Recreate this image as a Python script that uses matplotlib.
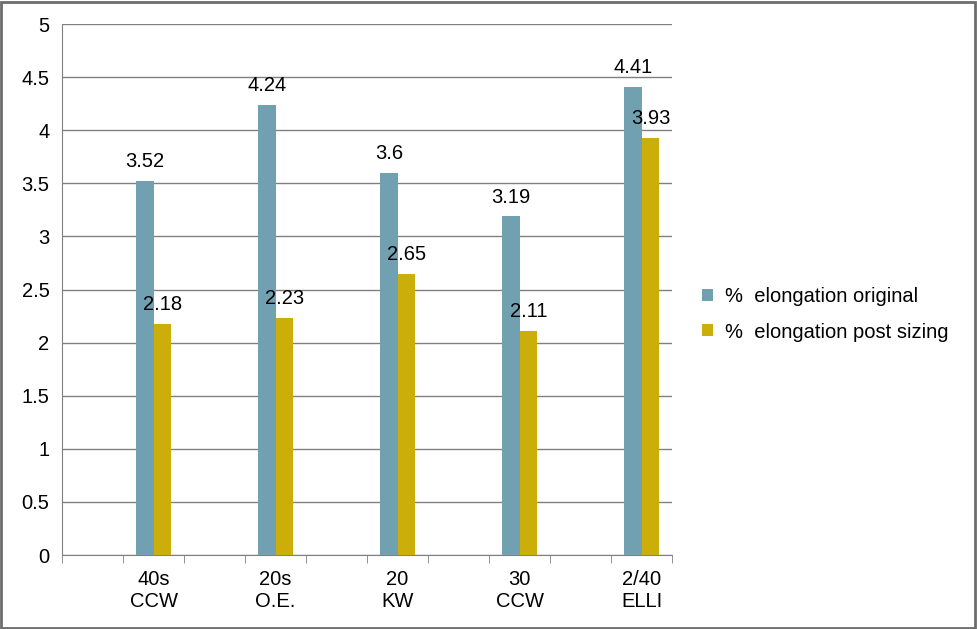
import matplotlib.pyplot as plt
from matplotlib.patches import Rectangle
import numpy as np

plt.rcParams['font.family'] = ['Liberation Sans', 'DejaVu Sans']

# 10 category slots, data only in every other one (blank slots in between)
labels = ['', '40s\nCCW', '', '20s\nO.E.', '', '20\nKW', '', '30\nCCW', '', '2/40\nELLI']
original = [None, 3.52, None, 4.24, None, 3.6, None, 3.19, None, 4.41]
post_sizing = [None, 2.18, None, 2.23, None, 2.65, None, 2.11, None, 3.93]

teal = '#71a1b1'
gold = '#ccae0b'
grid = '#808080'
fs = 14.5

fig = plt.figure(figsize=(9.77, 6.29), dpi=100)
ax = fig.add_axes([0.0635, 0.1176, 0.6245, 0.8442])

x = np.arange(len(labels))
w = 0.29
mask = np.array([v is not None for v in original])
xo = x[mask]
y1 = np.array([v for v in original if v is not None])
y2 = np.array([v for v in post_sizing if v is not None])

b1 = ax.bar(xo - w / 2, y1, w, color=teal, label='%  elongation original', zorder=3)
b2 = ax.bar(xo + w / 2, y2, w, color=gold, label='%  elongation post sizing', zorder=3)

for xi, v in zip(xo - w / 2, y1):
    ax.annotate(f'{v:g}', (xi, v), xytext=(0, 7), textcoords='offset points',
                ha='center', va='bottom', fontsize=fs, zorder=4)
for xi, v in zip(xo + w / 2, y2):
    ax.annotate(f'{v:g}', (xi, v), xytext=(0, 7), textcoords='offset points',
                ha='center', va='bottom', fontsize=fs, zorder=4)

ax.set_xlim(-0.5, len(labels) - 0.5)
ax.set_ylim(0, 5)
ax.set_yticks(np.arange(0, 5.01, 0.5))
ax.set_yticklabels([f'{t:g}' for t in np.arange(0, 5.01, 0.5)], fontsize=fs)
ax.yaxis.grid(True, color=grid, linewidth=1, zorder=0)
ax.tick_params(axis='y', length=0, pad=9)

ax.set_xticks(x)
ax.set_xticklabels(labels, fontsize=fs)
ax.set_xticks(np.arange(-0.5, len(labels)), minor=True)
ax.tick_params(axis='x', which='major', length=0, pad=11)
ax.tick_params(axis='x', which='minor', length=6, color=grid, direction='out')

for s in ['top', 'right']:
    ax.spines[s].set_visible(False)
for s in ['left', 'bottom']:
    ax.spines[s].set_color(grid)

fig.legend(handles=[b1, b2], loc='center left', bbox_to_anchor=(0.7, 0.5),
           frameon=False, fontsize=fs, handlelength=0.55, handleheight=0.55,
           handletextpad=0.6, labelspacing=0.8)

fig.add_artist(Rectangle((0.001, 0.001), 0.997, 0.996, transform=fig.transFigure,
                         fill=False, edgecolor='#6d6d6d', linewidth=2))

fig.savefig('out.png', dpi=100)
